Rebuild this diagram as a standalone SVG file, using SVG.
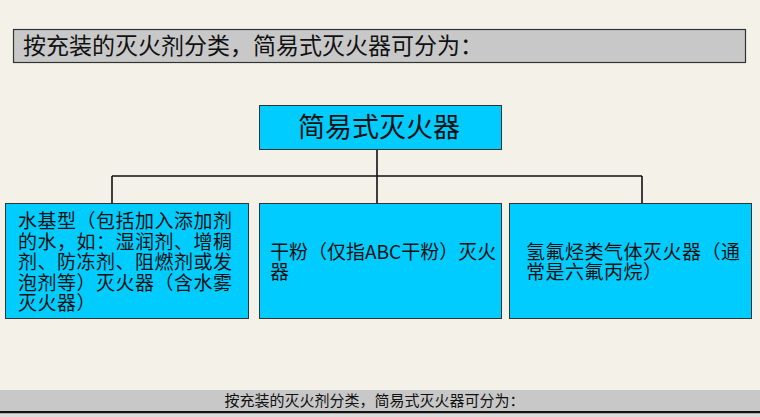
<svg xmlns="http://www.w3.org/2000/svg" width="760" height="417" viewBox="0 0 760 417">
<defs>
<style>
.t{font-family:"Noto Sans CJK SC","Liberation Sans",sans-serif;fill:#111;}
.box{fill:#00ccff;stroke:#333;stroke-width:1;}
.ln{stroke:#111;stroke-width:1.6;fill:none;}
</style>
</defs>
<rect width="760" height="417" fill="#f4f2e8"/>
<g id="title">
<rect x="13.5" y="29.5" width="732" height="33" fill="#c8c8c8" stroke="#333" stroke-width="1.2"/>
<text class="t" x="23" y="54" font-size="23">按充装的灭火剂分类，简易式灭火器可分为：</text>
</g>
<g id="connectors">
<path class="ln" d="M377 149V176M112 176H642M112 176V204M377 176V204M642 176V204"/>
</g>
<g id="root">
<rect class="box" x="259.5" y="105.5" width="242" height="44"/>
<text class="t" x="379" y="137" font-size="27" text-anchor="middle">简易式灭火器</text>
</g>
<g id="water">
<rect class="box" x="5.5" y="203.5" width="243" height="115"/>
<text class="t" font-size="19" letter-spacing="0.5">
<tspan x="18" y="228">水基型（包括加入添加剂</tspan>
<tspan x="18" y="248.5">的水，如：湿润剂、增稠</tspan>
<tspan x="18" y="269">剂、防冻剂、阻燃剂或发</tspan>
<tspan x="18" y="289.5">泡剂等）灭火器（含水雾</tspan>
<tspan x="18" y="310">灭火器）</tspan>
</text>
</g>
<g id="powder">
<rect class="box" x="259.5" y="203.5" width="242" height="115"/>
<text class="t" font-size="19">
<tspan x="270" y="259">干粉（仅指ABC干粉）灭火</tspan>
<tspan x="270" y="279">器</tspan>
</text>
</g>
<g id="gas">
<rect class="box" x="509.5" y="203.5" width="242" height="115"/>
<text class="t" font-size="19" letter-spacing="0.5">
<tspan x="526" y="259">氢氟烃类气体灭火器（通</tspan>
<tspan x="526" y="279">常是六氟丙烷）</tspan>
</text>
</g>
<g id="footer">
<rect x="0" y="390" width="760" height="21" fill="#c8c8c8"/>
<rect x="0" y="411" width="760" height="2.5" fill="#111"/>
<rect x="0" y="413.5" width="760" height="3.5" fill="#dcdcdc"/>
<text class="t" x="374.5" y="406" font-size="15" text-anchor="middle">按充装的灭火剂分类，简易式灭火器可分为：</text>
</g>
</svg>
